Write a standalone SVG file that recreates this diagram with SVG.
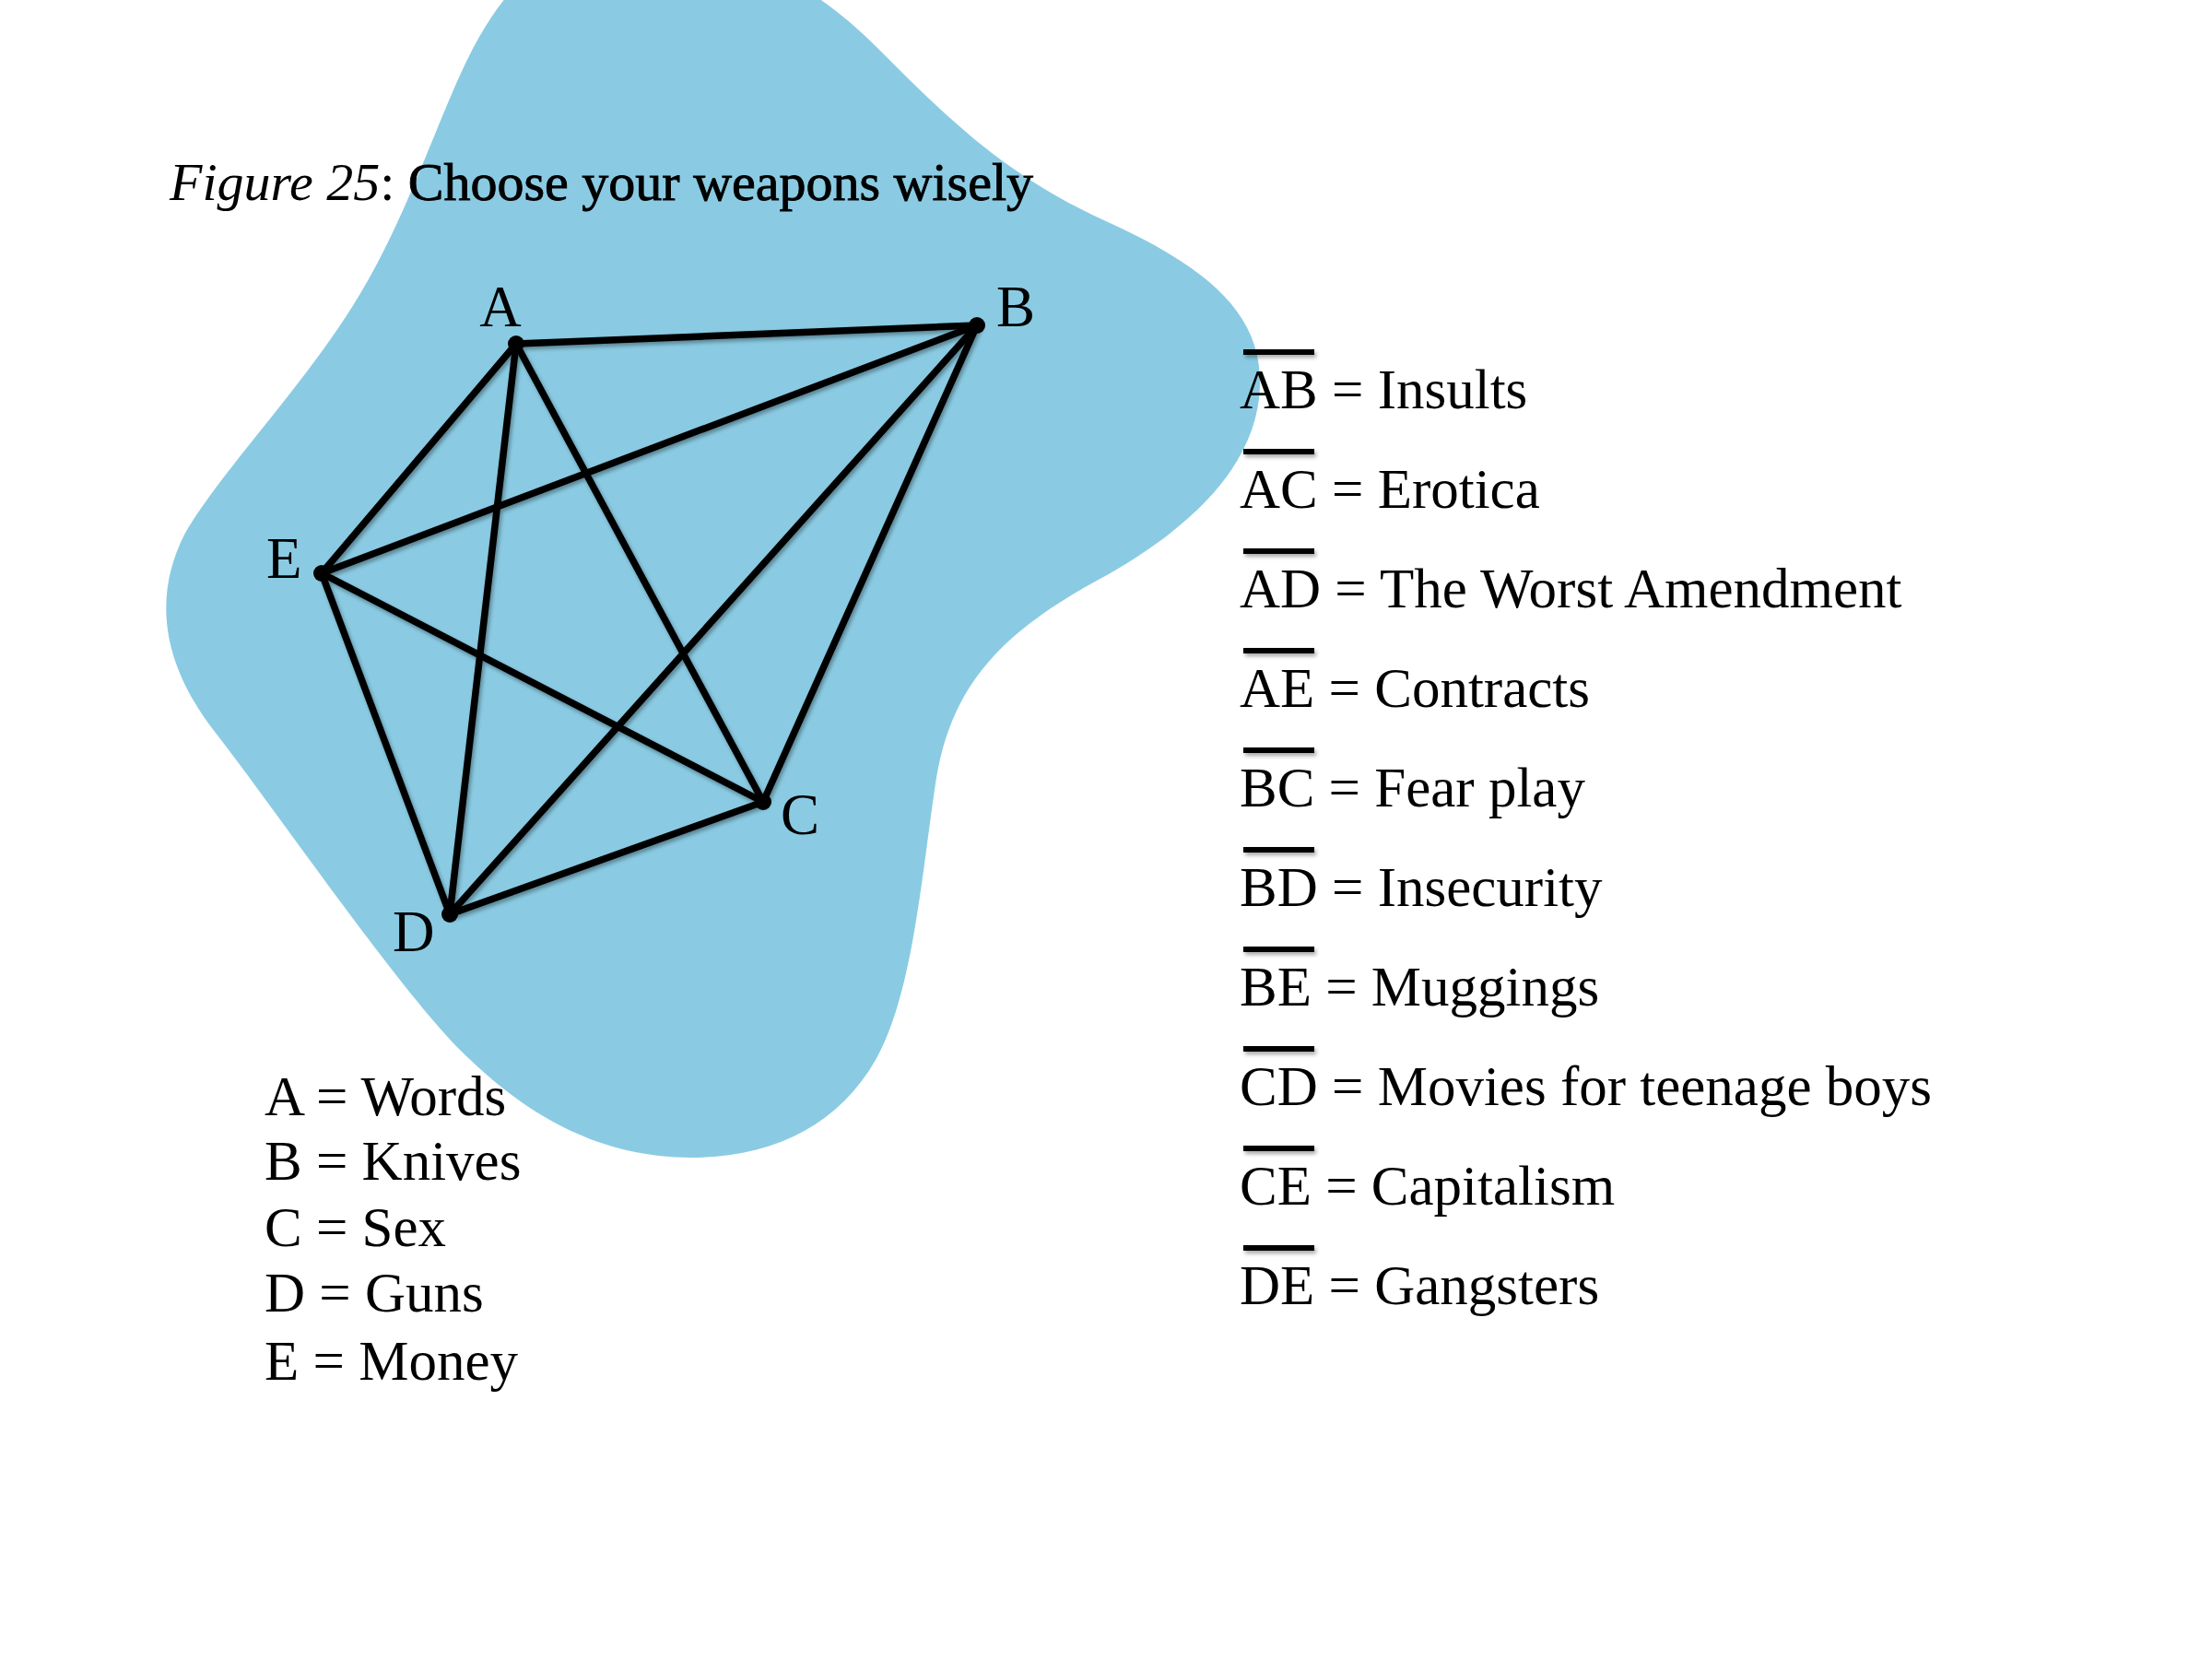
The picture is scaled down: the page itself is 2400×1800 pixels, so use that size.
<svg xmlns="http://www.w3.org/2000/svg" width="2400" height="1800" viewBox="0 0 2400 1800">
<defs>
<style>
text { font-family: "Liberation Serif", "Times New Roman", serif; fill: #000; }
.lbl { font-size: 63px; }
.leg { font-size: 61px; }
.title { font-size: 58px; }
.heavy { stroke: #000; stroke-width: 0.9px; }
.edge { stroke: #000; stroke-width: 7.5; stroke-linecap: round; fill: none; }
.dot { fill: #000; }
.bar { fill: #000; }
</style>
<filter id="sh" x="-20%" y="-20%" width="140%" height="140%">
<feDropShadow dx="2" dy="3" stdDeviation="2" flood-color="#000" flood-opacity="0.35"/>
</filter>
</defs>
<rect width="2400" height="1800" fill="#fff"/>
<path id="blob" fill="#8ACBE3" d="M 520,40 C 560,-30 600,-60 700,-60 C 800,-60 880,-20 950,50 C 1030,130 1090,190 1200,240 C 1310,290 1370,340 1367,420 C 1364,500 1300,570 1190,630 C 1080,690 1030,750 1015,850 C 1000,950 990,1080 950,1150 C 910,1220 840,1256 750,1256 C 650,1256 570,1210 500,1140 C 430,1070 300,880 230,790 C 170,710 170,640 200,580 C 240,510 330,420 390,320 C 450,220 480,110 520,40 Z"/>
<text class="title" x="184" y="217"><tspan font-style="italic">Figure 25</tspan>: <tspan class="heavy">Choose your weapons wisely</tspan></text>
<g id="connectors" filter="url(#sh)">
<line class="edge" x1="560" y1="373" x2="1060" y2="353"/>
<line class="edge" x1="560" y1="373" x2="828" y2="870"/>
<line class="edge" x1="560" y1="373" x2="488" y2="992"/>
<line class="edge" x1="560" y1="373" x2="349" y2="622"/>
<line class="edge" x1="1060" y1="353" x2="828" y2="870"/>
<line class="edge" x1="1060" y1="353" x2="488" y2="992"/>
<line class="edge" x1="1060" y1="353" x2="349" y2="622"/>
<line class="edge" x1="828" y1="870" x2="488" y2="992"/>
<line class="edge" x1="828" y1="870" x2="349" y2="622"/>
<line class="edge" x1="488" y1="992" x2="349" y2="622"/>
</g>
<g id="node-A"><circle class="dot" cx="560" cy="373" r="9"/><text class="lbl" x="543" y="354" text-anchor="middle">A</text></g>
<g id="node-B"><circle class="dot" cx="1060" cy="353" r="9"/><text class="lbl" x="1081" y="354">B</text></g>
<g id="node-C"><circle class="dot" cx="828" cy="870" r="9"/><text class="lbl" x="847" y="905">C</text></g>
<g id="node-D"><circle class="dot" cx="488" cy="992" r="9"/><text class="lbl" x="426" y="1032">D</text></g>
<g id="node-E"><circle class="dot" cx="349" cy="622" r="9"/><text class="lbl" x="289" y="627">E</text></g>
<g id="legend-nodes">
<text class="leg" x="287" y="1210">A = Words</text>
<text class="leg" x="287" y="1280">B = Knives</text>
<text class="leg" x="287" y="1352">C = Sex</text>
<text class="leg" x="287" y="1423">D = Guns</text>
<text class="leg" x="287" y="1497">E = Money</text>
</g>
<g id="legend-edges">
<g filter="url(#sh)">
<rect class="bar" x="1349" y="379" width="77" height="6"/>
<rect class="bar" x="1349" y="487" width="77" height="6"/>
<rect class="bar" x="1349" y="595" width="77" height="6"/>
<rect class="bar" x="1349" y="703" width="77" height="6"/>
<rect class="bar" x="1349" y="811" width="77" height="6"/>
<rect class="bar" x="1349" y="919" width="77" height="6"/>
<rect class="bar" x="1349" y="1027" width="77" height="6"/>
<rect class="bar" x="1349" y="1135" width="77" height="6"/>
<rect class="bar" x="1349" y="1243" width="77" height="6"/>
<rect class="bar" x="1349" y="1351" width="77" height="6"/>
</g>
<text class="leg" x="1345" y="443">AB = Insults</text>
<text class="leg" x="1345" y="551">AC = Erotica</text>
<text class="leg" x="1345" y="659">AD = The Worst Amendment</text>
<text class="leg" x="1345" y="767">AE = Contracts</text>
<text class="leg" x="1345" y="875">BC = Fear play</text>
<text class="leg" x="1345" y="983">BD = Insecurity</text>
<text class="leg" x="1345" y="1091">BE = Muggings</text>
<text class="leg" x="1345" y="1199">CD = Movies for teenage boys</text>
<text class="leg" x="1345" y="1307">CE = Capitalism</text>
<text class="leg" x="1345" y="1415">DE = Gangsters</text>
</g>
</svg>
